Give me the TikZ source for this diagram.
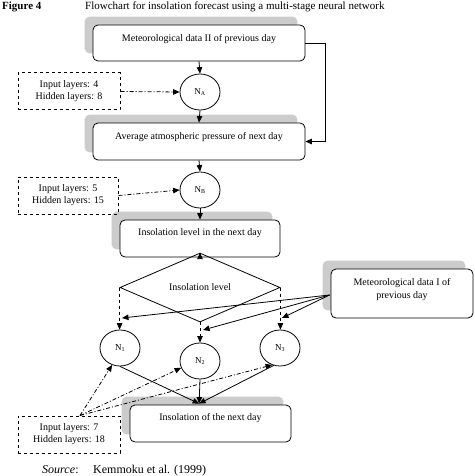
\documentclass[tikz,border=0pt]{standalone}
\usepackage{fontspec}
\setmainfont{Liberation Serif}
\usetikzlibrary{shapes.geometric,arrows.meta,backgrounds,calc}
\tikzset{
  flowbox/.style={draw, fill=white, rounded corners=5pt, line width=0.8pt, inner sep=0pt},
  shadowfill/.style={fill=gray!40, rounded corners=5pt},
  dbox/.style={draw, dashed, line width=1pt, inner sep=0pt, align=center, font=\fontsize{10}{12}\selectfont},
  neuron/.style={draw, ellipse, line width=0.8pt, minimum width=40pt, minimum height=36pt, inner sep=0pt, font=\fontsize{9}{10}\selectfont},
  txt/.style={font=\fontsize{10}{13}\selectfont, align=center, inner sep=0pt},
  arr/.style={line width=0.8pt, -{Triangle[length=6.5pt,width=5.5pt]}},
  darr/.style={arr, dashed},
  ddarr/.style={arr, dash pattern=on 4pt off 2pt on 1pt off 2pt},
}
\begin{document}
\begin{tikzpicture}[x=1pt,y=-1pt]
\useasboundingbox (0,0) rectangle (474,476);
% title
\node[anchor=base west, inner sep=0pt, font=\fontsize{11}{13}\selectfont\bfseries] (figlab) at (2,10) {Figure 4};
\node[anchor=base west, inner sep=0pt, font=\fontsize{11}{13}\selectfont] (figtitle) at (85,10) {Flowchart for insolation forecast using a multi-stage neural network};

% boxes
\node[flowbox, minimum width=212pt, minimum height=36pt] (box1) at (199,43) {};
\node[txt] (t1) at (199,39) {Meteorological data II of previous day};
\node[flowbox, minimum width=212pt, minimum height=37pt] (box2) at (199,141.5) {};
\node[txt] (t2) at (199,137) {Average atmospheric pressure of next day};
\node[flowbox, minimum width=160pt, minimum height=37pt] (box3) at (200,238.5) {};
\node[txt] (t3) at (200,233) {Insolation level in the next day};
\node[flowbox, minimum width=142pt, minimum height=49pt] (box4) at (402,293.5) {};
\node[txt] (t4) at (402,290) {Meteorological data I of\\previous day};
\node[flowbox, minimum width=161pt, minimum height=37pt] (box5) at (210.5,423.5) {};
\node[txt] (t5) at (210.5,418) {Insolation of the next day};

% shadows
\begin{scope}[on background layer]
\foreach \b in {box1,box2,box3,box4,box5}
  \fill[shadowfill] ([shift={(-8,-8)}]\b.south west) rectangle ([shift={(-8,-8)}]\b.north east);
\end{scope}

% neurons
\node[neuron] (NA) at (200,92) {N\textsubscript{A}};
\node[neuron] (NB) at (200,190) {N\textsubscript{B}};
\node[neuron] (N1) at (120,348) {N\textsubscript{1}};
\node[neuron] (N2) at (200,361) {N\textsubscript{2}};
\node[neuron] (N3) at (280,348) {N\textsubscript{3}};

% decision
\node[draw, diamond, line width=0.8pt, minimum width=160pt, minimum height=35pt, inner sep=0pt, font=\fontsize{10}{12}\selectfont] (dia) at (200,287.5) {Insolation level};

% dashed info boxes
\node[dbox, minimum width=102pt, minimum height=37pt] (d1) at (69,91.5) {Input layers: 4\\Hidden layers: 8};
\node[dbox, minimum width=100pt, minimum height=37pt] (d2) at (68,195.5) {Input layers: 5\\Hidden layers: 15};
\node[dbox, minimum width=102pt, minimum height=37pt] (d3) at (69,434.5) {Input layers: 7\\Hidden layers: 18};

% main flow
\draw[arr] (box1.south) -- (NA.north);
\draw[arr] (NA.south) -- (box2.north);
\draw[arr] (box2.south) -- (NB.north);
\draw[arr] (NB.south) -- (box3.north);
\draw[arr] (box3.south) -- (dia.north);
\coordinate (rt) at (325,0);
\draw[arr] (box1.east) -| (rt |- box2.east) -- (box2.east);

% info arrows
\draw[ddarr] (d1.east) -- (NA.west);
\draw[ddarr] (d2.east) -- (NB.west);
\coordinate (d3s) at ($(d3.north)+(11,0)$);
\draw[ddarr] (d3s) -- (N1.245);
\draw[ddarr] (d3s) -- (N2.200);
\draw[ddarr] (d3s) -- (N3.245);

% decision branches
\draw[darr] (dia.west) -- (dia.west |- N1.north);
\draw[darr] (dia.south) -- (N2.north);
\draw[darr] (dia.east) -- (dia.east |- N3.north);

% meteorological data I arrows
\coordinate (m4) at ($(box4.west)+(-1,1.5)$);
\coordinate (e1) at (122,318);
\coordinate (e2) at (203,330);
\coordinate (e3) at (282,318);
\draw[arr] (m4) -- (e1);
\draw[arr] (m4) -- (e2);
\draw[arr] (m4) -- (e3);

% outputs
\coordinate (conv) at ($(box5.north west)+(69.5,-1)$);
\draw[arr] (N1.south) -- (conv);
\draw[arr] (N2.south) -- (conv);
\draw[arr] (N3.250) -- (conv);

% source
\node[anchor=base west, inner sep=0pt, font=\fontsize{12}{14}\selectfont\itshape] (srclab) at (42,473) {Source};
\node[anchor=base west, inner sep=0pt, font=\fontsize{12}{14}\selectfont] (srccolon) at (srclab.base east) {:};
\node[anchor=base west, inner sep=0pt, font=\fontsize{12}{14}\selectfont] (src) at (93,473) {Kemmoku et al. (1999)};
\end{tikzpicture}
\end{document}
